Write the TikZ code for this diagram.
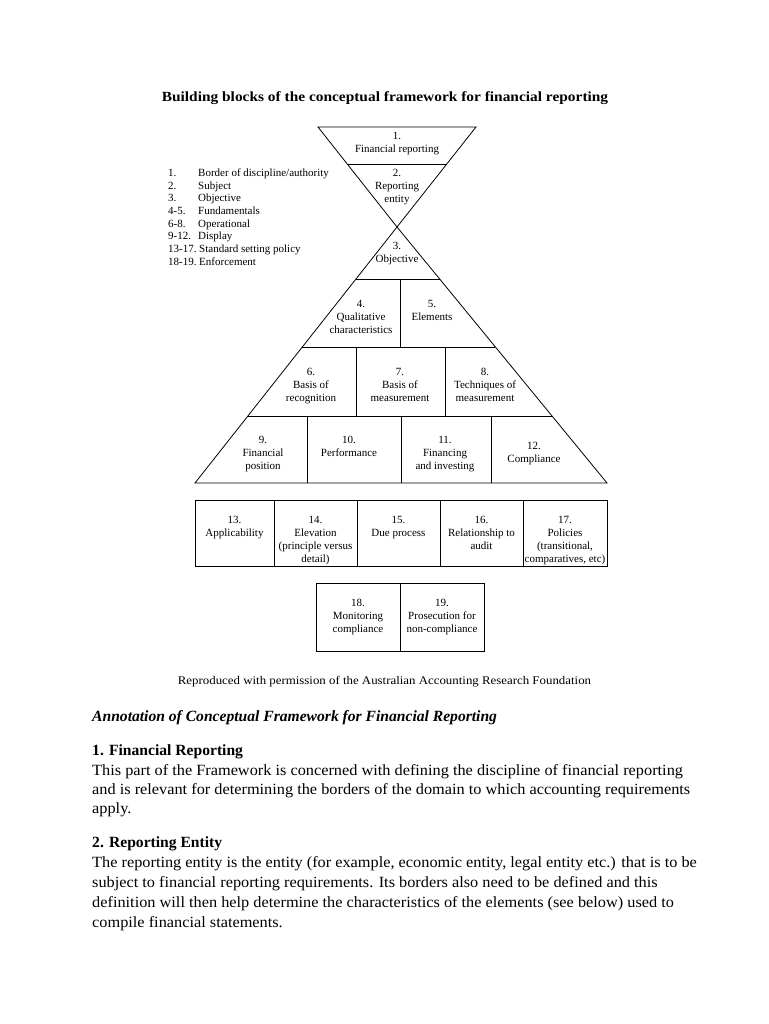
\documentclass[tikz,border=0pt]{standalone}
\usepackage{fontspec}
\setmainfont{Liberation Serif}
\newfontfamily\wideserif[FakeStretch=1.1]{Liberation Serif}
\newfontfamily\bodyserif[FakeStretch=1.045]{Liberation Serif}
\usetikzlibrary{calc}
\begin{document}
\begin{tikzpicture}[x=1pt,y=-1pt,
  ln/.style={draw=black,line width=0.8pt},
  bx/.style={draw=black,line width=1pt},
  cell/.style={font=\fontsize{11}{13}\selectfont,align=center,inner sep=0pt,anchor=north},
  leg/.style={font=\fontsize{11}{13}\selectfont,inner sep=0pt,anchor=base west},
  body/.style={font=\bodyserif\fontsize{15.6}{19}\selectfont,inner sep=0pt,anchor=base west},
  head/.style={font=\fontsize{15.6}{19}\selectfont\bfseries,inner sep=0pt,anchor=base west}]
\useasboundingbox (0,0) rectangle (768,1024);
\fill[white] (0,0) rectangle (768,1024);

% title
\node[font=\wideserif\fontsize{14}{16}\selectfont\bfseries,inner sep=0pt,anchor=base] (title) at (385,101.5) {Building blocks of the conceptual framework for financial reporting};

% inverted triangle
\coordinate (A) at (397,227);
\coordinate (T1) at (318,127);
\coordinate (T2) at (476,127);
\draw[ln] (T1) -- (T2) -- (A) -- cycle;
\draw[ln] ($(A)!0.63!(T1)$) -- ($(A)!0.63!(T2)$);

% pyramid
\coordinate (L) at (195,483);
\coordinate (R) at (607,483);
\draw[ln] (L) -- (A) -- (R) -- cycle;
\draw[ln] ($(A)!52/256!(L)$) -- ($(A)!52/256!(R)$);
\draw[ln] ($(A)!120/256!(L)$) -- ($(A)!120/256!(R)$);
\draw[ln] ($(A)!189/256!(L)$) -- ($(A)!189/256!(R)$);
\draw[ln] (400,279) -- (400,347);
\draw[ln] (356,347) -- (356,416);
\draw[ln] (445,347) -- (445,416);
\draw[ln] (307,416) -- (307,483);
\draw[ln] (401,416) -- (401,483);
\draw[ln] (491,416) -- (491,483);

% boxes 13-17
\draw[bx] (195,500) rectangle (607,566);
\foreach \xx in {274,357,440,523} \draw[bx] (\xx,500) -- (\xx,566);
% boxes 18-19
\draw[bx] (316,583) rectangle (484,651);
\draw[bx] (400,583) -- (400,651);

% cell texts
\node[cell] (c1) at (397,132) {1.\\Financial reporting};
\node[cell] (c2) at (397,169) {2.\\Reporting\\entity};
\node[cell] (c3) at (397,242) {3.\\Objective};
\node[cell] (c4) at (361,300) {4.\\Qualitative\\characteristics};
\node[cell] (c5) at (432,300) {5.\\Elements};
\node[cell] (c6) at (311,368) {6.\\Basis of\\recognition};
\node[cell] (c7) at (400,368) {7.\\Basis of\\measurement};
\node[cell] (c8) at (485,368) {8.\\Techniques of\\measurement};
\node[cell] (c9) at (263,436) {9.\\Financial\\position};
\node[cell] (c10) at (349,436) {10.\\Performance};
\node[cell] (c11) at (445,436) {11.\\Financing\\and investing};
\node[cell] (c12) at (534,442) {12.\\Compliance};
\node[cell] (c13) at (234.5,516) {13.\\Applicability};
\node[cell] (c14) at (315.5,516) {14.\\Elevation\\(principle versus\\detail)};
\node[cell] (c15) at (398.5,516) {15.\\Due process};
\node[cell] (c16) at (481.5,516) {16.\\Relationship to\\audit};
\node[cell] (c17) at (565,516) {17.\\Policies\\(transitional,\\comparatives, etc)};
\node[cell] (c18) at (358,599) {18.\\Monitoring\\compliance};
\node[cell] (c19) at (442,599) {19.\\Prosecution for\\non-compliance};

% legend
\node[leg] (n1) at (168,176.5) {1.};   \node[leg] (t1) at (198,176.5) {Border of discipline/authority};
\node[leg] (n2) at (168,189.2) {2.};   \node[leg] (t2) at (198,189.2) {Subject};
\node[leg] (n3) at (168,201.9) {3.};   \node[leg] (t3) at (198,201.9) {Objective};
\node[leg] (n4) at (168,214.6) {4-5.}; \node[leg] (t4) at (198,214.6) {Fundamentals};
\node[leg] (n5) at (168,227.3) {6-8.}; \node[leg] (t5) at (198,227.3) {Operational};
\node[leg] (n6) at (168,240.0) {9-12.};\node[leg] (t6) at (198,240.0) {Display};
\node[leg] (n7) at (168,252.7) {13-17.};\node[leg] (t7) at (199,252.7) {Standard setting policy};
\node[leg] (n8) at (168,265.4) {18-19.};\node[leg] (t8) at (199,265.4) {Enforcement};

% bottom texts
\node[font=\wideserif\fontsize{11.7}{13}\selectfont,inner sep=0pt,anchor=base] (repro) at (384.5,684) {Reproduced with permission of the Australian Accounting Research Foundation};
\node[font=\fontsize{15.6}{19}\selectfont\bfseries\itshape,inner sep=0pt,anchor=base west] (annot) at (92,721) {Annotation of Conceptual Framework for Financial Reporting};
\node[head] (h1) at (92,755) {1. Financial Reporting};
\node[body] (p1) at (92,775) {This part of the Framework is concerned with defining the discipline of financial reporting};
\node[body] (p2) at (92,794) {and is relevant for determining the borders of the domain to which accounting requirements};
\node[body] (p3) at (92,813) {apply.};
\node[head] (h2) at (92,847) {2. Reporting Entity};
\node[body] (q1) at (92,867) {The reporting entity is the entity (for example, economic entity, legal entity etc.) that is to be};
\node[body] (q2) at (92,887) {subject to financial reporting requirements. Its borders also need to be defined and this};
\node[body] (q3) at (92,907) {definition will then help determine the characteristics of the elements (see below) used to};
\node[body] (q4) at (92,927) {compile financial statements.};
\end{tikzpicture}
\end{document}
